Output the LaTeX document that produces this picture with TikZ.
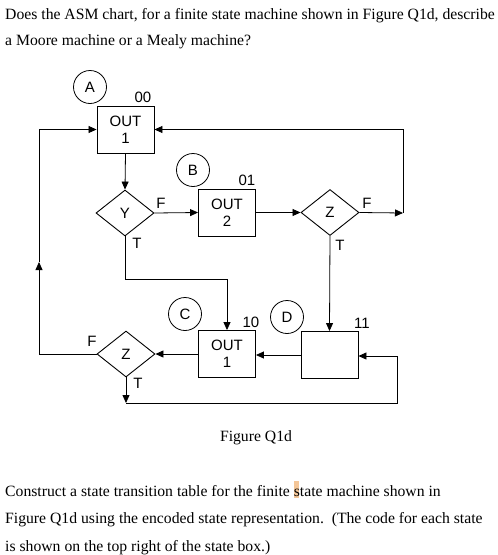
\documentclass[tikz,border=0pt]{standalone}
\usepackage{fontspec}
\setmainfont{Liberation Serif}
\newfontfamily\diagfont{Liberation Sans}
\usetikzlibrary{shapes.geometric,arrows.meta}

\tikzset{
    statebox/.style={draw, line width=0.9pt, minimum width=57pt, minimum height=47pt, inner sep=0pt, align=center, font=\diagfont\fontsize{15}{17}\selectfont},
    decbox/.style={draw, diamond, line width=0.9pt, minimum width=58pt, minimum height=46pt, inner sep=0pt, font=\diagfont\fontsize{15}{17}\selectfont},
    namecirc/.style={draw, circle, line width=0.8pt, minimum size=33pt, inner sep=0pt, font=\diagfont\fontsize{15}{17}\selectfont},
    lbl/.style={font=\diagfont\fontsize{15}{17}\selectfont, inner sep=0pt},
    arr/.style={line width=0.8pt, -{Triangle[length=8pt,width=7pt]}},
    ln/.style={line width=0.8pt},
    para/.style={anchor=base west, inner sep=0pt, font=\fontsize{15.7}{17}\selectfont}
}

\begin{document}
\begin{tikzpicture}[x=1pt, y=-1pt]
    \useasboundingbox (0,0) rectangle (498,555);

    % Question text
    \node[para] (q1) at (5, 19) {Does the ASM chart, for a finite state machine shown in Figure Q1d, describe};
    \node[para] (q2) at (5, 45) {a Moore machine or a Mealy machine?};

    % State boxes
    \node[statebox] (boxA) at (125.5, 129.5) {OUT\\1};
    \node[statebox] (boxB) at (227, 212.5) {OUT\\2};
    \node[statebox] (boxC) at (227, 354) {OUT\\1};
    \node[statebox] (boxD) at (329.5, 355) {};

    % State names and codes
    \node[namecirc] (nameA) at (90, 87) {A};
    \node[namecirc] (nameB) at (193, 170) {B};
    \node[namecirc] (nameC) at (185, 314) {C};
    \node[namecirc] (nameD) at (287, 317) {D};
    \node[lbl] (codeA) at (143, 97) {00};
    \node[lbl] (codeB) at (247, 180) {01};
    \node[lbl] (codeC) at (251, 322) {10};
    \node[lbl] (codeD) at (362, 323) {11};

    % Decision boxes
    \node[decbox] (decY) at (125, 213) {Y};
    \node[decbox] (decZa) at (330, 212.5) {Z};
    \node[decbox] (decZb) at (126, 354) {Z};
    \node[lbl] (fY) at (161, 203) {F};
    \node[lbl] (tY) at (137, 243) {T};
    \node[lbl] (fZa) at (367, 203) {F};
    \node[lbl] (tZa) at (340, 245) {T};
    \node[lbl] (fZb) at (92, 341) {F};
    \node[lbl] (tZb) at (138, 383) {T};

    % Turning points
    \coordinate (rjoin) at (403, 213);
    \coordinate (yturn) at (125, 279);
    \coordinate (lmid) at (39, 262);
    \coordinate (bjoin) at (126, 403);
    \coordinate (bright) at (397, 356);

    % Connectors
    \draw[arr] (boxA.south) -- (decY.north);
    \draw[arr] (decY.east) -- (boxB.west);
    \draw[arr] (boxB.east) -- (decZa.west);
    \draw[arr] (decZa.east) -- (rjoin);
    \draw[arr] (rjoin) |- (boxA.east);
    \draw[arr] (decY.south) -- (yturn) -| (boxC.north);
    \draw[arr] (decZa.south) -- (boxD.north);
    \draw[arr] (boxD.west) -- (boxC.east |- boxD.west);
    \draw[arr] (boxC.west) -- (decZb.east);
    \draw[arr] (decZb.west) -| (lmid);
    \draw[arr] (lmid) |- (boxA.west);
    \draw[arr] (decZb.south) -- (bjoin);
    \draw[arr] (bjoin) -| (bright) -- (boxD.east |- bright);

    % Caption and second question
    \node[anchor=base, inner sep=0pt, font=\fontsize{15.7}{17}\selectfont] (cap) at (256, 441) {Figure Q1d};
    \fill[brown!40!orange!45] (294, 481) rectangle (299, 498);
    \node[para] (p1) at (5, 496) {Construct a state transition table for the finite state machine shown in};
    \node[para] (p2) at (5, 523) {Figure Q1d using the encoded state representation.\ \ (The code for each state};
    \node[para] (p3) at (5, 551) {is shown on the top right of the state box.)};
\end{tikzpicture}
\end{document}
